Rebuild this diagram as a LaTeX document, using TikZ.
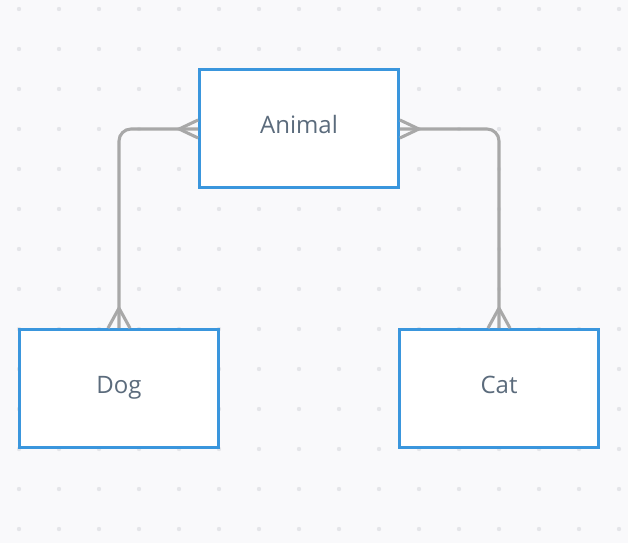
\documentclass[tikz,border=0pt]{standalone}
\usepackage{fontspec}
\setmainfont{Open Sans}
\definecolor{bg}{HTML}{F9F9FB}
\definecolor{dotc}{HTML}{E4E5E9}
\definecolor{boxb}{HTML}{3A96DD}
\definecolor{txt}{HTML}{5B6B7C}
\definecolor{lnk}{HTML}{A8A8A8}
\begin{document}
\begin{tikzpicture}[x=0.75pt,y=-0.75pt,
  entity/.style={draw=boxb,line width=2.1pt,fill=white,minimum width=199*0.75pt,minimum height=118*0.75pt,inner sep=0pt,text=txt,font=\fontsize{18}{21}\selectfont,text height=10pt,text depth=2pt},
  link/.style={draw=lnk,line width=2.3pt,rounded corners=9pt}]
\fill[bg] (0,0) rectangle (628,543);
\useasboundingbox (0,0) rectangle (628,543);
\foreach \i in {0,...,15} \foreach \j in {0,...,13} \fill[dotc] (19+40*\i,9+40*\j) circle (2.2*0.75pt);
\node[entity] (animal) at (299,128.5) {Animal};
\node[entity] (dog) at (119,388.5) {Dog};
\node[entity] (cat) at (499,388.5) {Cat};
\coordinate (c1) at (119,129);
\coordinate (c2) at (499,129);
\draw[link] (animal.west|-c1) -- (c1) -- (dog.north);
\draw[link] (animal.east|-c2) -- (c2) -- (cat.north);
% crow's feet
\draw[link] ([xshift=-19*0.75pt]animal.west|-c1) -- ([yshift=9*0.75pt]animal.west|-c1) ([xshift=-19*0.75pt]animal.west|-c1) -- ([yshift=-9*0.75pt]animal.west|-c1);
\draw[link] ([xshift=19*0.75pt]animal.east|-c2) -- ([yshift=9*0.75pt]animal.east|-c2) ([xshift=19*0.75pt]animal.east|-c2) -- ([yshift=-9*0.75pt]animal.east|-c2);
\draw[link] ([yshift=20*0.75pt]dog.north) -- ([xshift=-11*0.75pt]dog.north) ([yshift=20*0.75pt]dog.north) -- ([xshift=11*0.75pt]dog.north);
\draw[link] ([yshift=20*0.75pt]cat.north) -- ([xshift=-11*0.75pt]cat.north) ([yshift=20*0.75pt]cat.north) -- ([xshift=11*0.75pt]cat.north);
\end{tikzpicture}
\end{document}
